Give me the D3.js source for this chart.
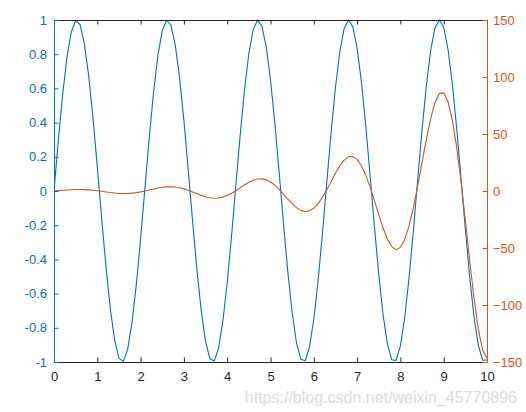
<!DOCTYPE html>
<html><head><meta charset="utf-8">
<script src="https://cdn.jsdelivr.net/npm/d3@7"></script>
<style>html,body{margin:0;padding:0;background:#fff;}svg{display:block;}</style>
</head><body>
<svg id="c" width="526" height="412"></svg>
<script>
const xValues = [0,0.1,0.2,0.3,0.4,0.5,0.6,0.7,0.8,0.9,1,1.1,1.2,1.3,1.4,1.5,1.6,1.7,1.8,1.9,2,2.1,2.2,2.3,2.4,2.5,2.6,2.7,2.8,2.9,3,3.1,3.2,3.3,3.4,3.5,3.6,3.7,3.8,3.9,4,4.1,4.2,4.3,4.4,4.5,4.6,4.7,4.8,4.9,5,5.1,5.2,5.3,5.4,5.5,5.6,5.7,5.8,5.9,6,6.1,6.2,6.3,6.4,6.5,6.6,6.7,6.8,6.9,7,7.1,7.2,7.3,7.4,7.5,7.6,7.7,7.8,7.9,8,8.1,8.2,8.3,8.4,8.5,8.6,8.7,8.8,8.9,9,9.1,9.2,9.3,9.4,9.5,9.6,9.7,9.8,9.9,10];
const leftSeries = [0,0.2955,0.5646,0.7833,0.932,0.9975,0.9738,0.8632,0.6755,0.4274,0.1411,-0.1577,-0.4425,-0.6878,-0.8716,-0.9775,-0.9962,-0.9258,-0.7728,-0.5507,-0.2794,0.0168,0.3115,0.5784,0.7937,0.938,0.9985,0.9699,0.8546,0.663,0.4121,0.1245,-0.1743,-0.4575,-0.6999,-0.8797,-0.9809,-0.9946,-0.9193,-0.762,-0.5366,-0.2632,0.0336,0.3275,0.5921,0.8038,0.9437,0.9993,0.9657,0.8457,0.6503,0.3967,0.1078,-0.1909,-0.4724,-0.7118,-0.8876,-0.9841,-0.9927,-0.9125,-0.751,-0.5223,-0.247,0.0504,0.3433,0.6055,0.8137,0.9491,0.9998,0.9612,0.8367,0.6374,0.3813,0.091,-0.2073,-0.4872,-0.7235,-0.895,-0.987,-0.9905,-0.9056,-0.7397,-0.5077,-0.2306,0.0672,0.3591,0.6186,0.8234,0.9542,0.9999,0.9564,0.8274,0.6243,0.3656,0.0741,-0.2237,-0.5018,-0.735,-0.9022,-0.9896,-0.988];
const rightSeries = [0,0.31,0.62,0.91,1.14,1.28,1.31,1.22,1.01,0.67,0.23,-0.27,-0.81,-1.32,-1.76,-2.07,-2.22,-2.17,-1.9,-1.42,-0.76,0.05,0.94,1.83,2.64,3.27,3.66,3.74,3.47,2.83,1.85,0.59,-0.86,-2.38,-3.83,-5.06,-5.93,-6.33,-6.15,-5.36,-3.97,-2.04,0.27,2.81,5.34,7.63,9.41,10.48,10.65,9.8,7.92,5.08,1.45,-2.7,-7.03,-11.13,-14.6,-17.01,-18.04,-17.43,-15.08,-11.03,-5.48,1.18,8.42,15.62,22.06,27.05,29.96,30.28,27.71,22.19,13.95,3.5,-8.38,-20.72,-32.34,-42.06,-48.76,-51.44,-49.44,-42.46,-30.64,-14.63,4.48,25.18,45.59,63.8,77.72,85.62,86.09,78.3,62.11,38.24,8.15,-25.86,-60.97,-93.89,-121.16,-139.71,-146.63];
const xTicks = [0,1,2,3,4,5,6,7,8,9,10];
const leftTicks = [-1,-0.8,-0.6,-0.4,-0.2,0,0.2,0.4,0.6,0.8,1];
const leftTickLabels = ["-1","-0.8","-0.6","-0.4","-0.2","0","0.2","0.4","0.6","0.8","1"];
const rightTicks = [-150,-100,-50,0,50,100,150];
const watermark = "https://blog.csdn.net/weixin_45770896";

const blue = "#0072BD", orange = "#D95319", dark = "#262626";
const L = 54, R = 487, T = 20, B = 362;
const svg = d3.select("#c");
const x = d3.scaleLinear().domain([0, 10]).range([L, R]);
const yL = d3.scaleLinear().domain([-1, 1]).range([B, T]);
const yR = d3.scaleLinear().domain([-150, 150]).range([B, T]);
const font = "'Liberation Sans', Arial, Helvetica, sans-serif";
const tl = 4.5;

// curves
const clip = svg.append("clipPath").attr("id", "pc").append("rect")
  .attr("x", L).attr("y", T - 1).attr("width", R - L).attr("height", B - T + 2);
const g = svg.append("g").attr("clip-path", "url(#pc)");
g.append("path").datum(xValues.map((v, i) => [v, leftSeries[i]]))
  .attr("fill", "none").attr("stroke", blue).attr("stroke-width", 1.1)
  .attr("stroke-linejoin", "round")
  .attr("d", d3.line().x(d => x(d[0])).y(d => yL(d[1])));
g.append("path").datum(xValues.map((v, i) => [v, rightSeries[i]]))
  .attr("fill", "none").attr("stroke", orange).attr("stroke-width", 1.1)
  .attr("stroke-linejoin", "round")
  .attr("d", d3.line().x(d => x(d[0])).y(d => yR(d[1])));

// bottom axis
const xb = svg.append("g").attr("transform", `translate(0,${B})`)
  .call(d3.axisBottom(x).tickValues(xTicks).tickSizeInner(-tl).tickSizeOuter(0).tickPadding(10).tickFormat(d3.format("d")));
xb.select(".domain").attr("stroke", dark);
xb.selectAll(".tick line").attr("stroke", dark);
xb.selectAll(".tick text").attr("fill", dark).style("font-family", font).style("font-size", "13px");
// top axis
const xt = svg.append("g").attr("transform", `translate(0,${T})`)
  .call(d3.axisTop(x).tickValues(xTicks).tickSizeInner(-tl).tickSizeOuter(0).tickFormat(""));
xt.select(".domain").attr("stroke", dark);
xt.selectAll(".tick line").attr("stroke", dark);

// left axis
const yl = svg.append("g").attr("transform", `translate(${L},0)`)
  .call(d3.axisLeft(yL).tickValues(leftTicks).tickSizeInner(-tl).tickSizeOuter(0).tickPadding(7)
    .tickFormat((d, i) => leftTickLabels[i]));
yl.select(".domain").attr("stroke", blue);
yl.selectAll(".tick line").attr("stroke", blue);
yl.selectAll(".tick text").attr("fill", blue).style("font-family", font).style("font-size", "13px");

// right axis
const yr = svg.append("g").attr("transform", `translate(${R},0)`)
  .call(d3.axisRight(yR).tickValues(rightTicks).tickSizeInner(-tl).tickSizeOuter(0).tickPadding(6)
    .tickFormat(d3.format("d")));
yr.select(".domain").attr("stroke", orange);
yr.selectAll(".tick line").attr("stroke", orange);
yr.selectAll(".tick text").attr("fill", orange).style("font-family", font).style("font-size", "13px");

// watermark
svg.append("text").attr("x", 517).attr("y", 403).attr("text-anchor", "end")
  .attr("fill", "#dcdcdc").style("font-family", font).style("font-size", "16px")
  .text(watermark);
</script>
</body></html>
